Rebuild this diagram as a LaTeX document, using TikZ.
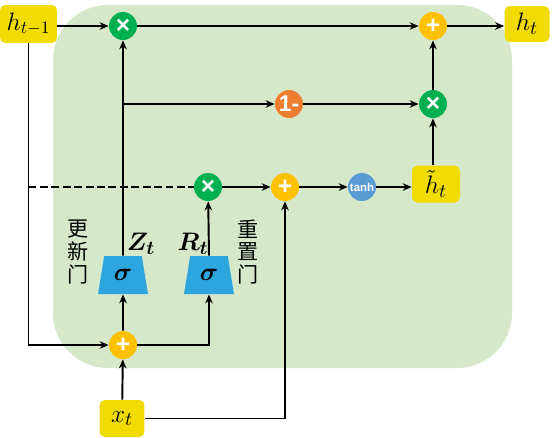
\documentclass[tikz,border=0pt]{standalone}
\usepackage{fontspec}
\usepackage{bm}
\setsansfont{Liberation Sans}
\newfontfamily\cjk{Noto Sans CJK SC}
\usetikzlibrary{arrows.meta,shapes.geometric}
\definecolor{gruback}{HTML}{D5E8CA}
\definecolor{gruyel}{HTML}{F0DC00}
\definecolor{grugreen}{HTML}{00B050}
\definecolor{gruamber}{HTML}{FFC000}
\definecolor{gruorange}{HTML}{ED7D31}
\definecolor{grublue}{HTML}{5B9BD5}
\definecolor{grusky}{HTML}{2DA6E0}
\tikzset{
  vec/.style={rounded corners=3pt, fill=gruyel, minimum width=0.9cm, minimum height=0.74cm, inner sep=0pt, font=\fontsize{15}{17}\selectfont},
  op/.style={circle, minimum size=0.56cm, inner sep=0pt, text=white, font=\sffamily\bfseries\fontsize{14}{15}\selectfont},
  mul/.style={op, fill=grugreen},
  add/.style={op, fill=gruamber},
  gate/.style={trapezium, trapezium angle=75, trapezium stretches=true, fill=grusky, minimum width=1cm, minimum height=0.76cm, inner sep=0pt, font=\fontsize{14}{16}\selectfont},
  arr/.style={-{Stealth[length=1.8mm,width=1.5mm]}, line width=1.1pt},
  ln/.style={line width=1.1pt},
  gname/.style={font=\cjk\fontsize{12}{13}\selectfont, align=center},
  glbl/.style={font=\fontsize{15}{17}\selectfont, inner sep=0pt},
}

\begin{document}
\begin{tikzpicture}[x=0.02cm, y=-0.02cm]
  \useasboundingbox (0,0) rectangle (554,437);
  \fill[gruback, rounded corners=1.1cm] (53,5) rectangle (512,368);

  % inputs and outputs
  \node[vec, minimum width=1.14cm, minimum height=0.76cm, font=\fontsize{14}{16}\selectfont] (hprev) at (28.5,24) {$h_{t-1}$};
  \node[vec, minimum height=0.72cm] (hout) at (527,24) {$h_t$};
  \node[vec, minimum width=0.96cm] (hcand) at (436,184) {$\tilde{h}_t$};
  \node[vec] (xin) at (122,418.5) {$x_t$};

  % operations
  \node[mul] (m1) at (123,26) {×};
  \node[add] (a1) at (433,26) {+};
  \node[op, fill=gruorange, font=\sffamily\bfseries\fontsize{13}{14}\selectfont] (inv) at (289,104) {1-};
  \node[mul] (m2) at (433,104) {×};
  \node[op, fill=grublue, font=\sffamily\bfseries\fontsize{6.5}{7}\selectfont] (th) at (362,187) {tanh};
  \node[add] (a2) at (285,187) {+};
  \node[mul] (m3) at (208,187) {×};
  \node[add] (a3) at (123,345) {+};

  % gates
  \node[gate] (zg) at (123,275) {$\bm{\sigma}$};
  \node[gate] (rg) at (209,275) {$\bm{\sigma}$};
  \node[glbl] (zl) at (141,244) {$\bm{Z_t}$};
  \node[glbl] (rl) at (193,244) {$\bm{R_t}$};
  \node[gname] (zn) at (78,252) {更\\新\\门};
  \node[gname] (rn) at (248,252) {重\\置\\门};

  % connectors
  \draw[arr] (hprev.east |- m1.west) -- (m1);
  \draw[arr] (m1) -- (a1);
  \draw[arr] (a1) -- (a1 -| hout.west);
  \draw[arr] (zg.north) -- (m1);
  \draw[arr] (m1 |- inv) -- (inv);
  \draw[arr] (inv) -- (m2);
  \draw[arr] (hcand.north -| m2) -- (m2);
  \draw[arr] (m2) -- (a1);
  \draw[arr] (rg.north) -- (m3);
  \draw[arr] (m3) -- (a2);
  \draw[arr] (a2) -- (th);
  \draw[arr] (th) -- (hcand.west |- th);
  \draw[ln, dash pattern=on 4.5pt off 2pt] (hprev |- m3) -- (m3);
  \draw[arr] (hprev.south) |- (a3);
  \draw[arr] (a3) -- (zg.south);
  \draw[arr] (a3) -| (rg.south);
  \draw[arr] (xin) -- (a3);
  \draw[arr] (xin) -| (a2);
\end{tikzpicture}
\end{document}
